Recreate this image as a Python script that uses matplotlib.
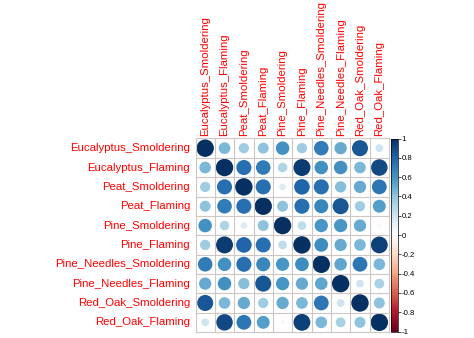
import numpy as np
import matplotlib
matplotlib.use("Agg")
import matplotlib.pyplot as plt
from matplotlib.colors import LinearSegmentedColormap, Normalize
from matplotlib.cm import ScalarMappable
from matplotlib.patches import Circle

plt.rcParams['font.family'] = ['Liberation Sans', 'DejaVu Sans']

# variables (same order for rows and columns)
labels = ["Eucalyptus_Smoldering", "Eucalyptus_Flaming", "Peat_Smoldering",
          "Peat_Flaming", "Pine_Smoldering", "Pine_Flaming",
          "Pine_Needles_Smoldering", "Pine_Needles_Flaming",
          "Red_Oak_Smoldering", "Red_Oak_Flaming"]

# correlation matrix
corr = np.array([
    [1.00, 0.45, 0.35, 0.40, 0.60, 0.35, 0.70, 0.50, 0.85, 0.20],
    [0.45, 1.00, 0.75, 0.70, 0.30, 0.95, 0.60, 0.60, 0.45, 0.90],
    [0.35, 0.75, 1.00, 0.75, 0.15, 0.80, 0.75, 0.42, 0.50, 0.72],
    [0.40, 0.70, 0.75, 1.00, 0.40, 0.75, 0.65, 0.85, 0.35, 0.55],
    [0.60, 0.30, 0.15, 0.40, 1.00, 0.25, 0.58, 0.58, 0.50, 0.05],
    [0.35, 0.95, 0.80, 0.75, 0.25, 1.00, 0.62, 0.50, 0.45, 0.93],
    [0.70, 0.60, 0.75, 0.65, 0.58, 0.62, 1.00, 0.52, 0.72, 0.45],
    [0.50, 0.60, 0.42, 0.85, 0.58, 0.50, 0.52, 1.00, 0.20, 0.32],
    [0.85, 0.45, 0.50, 0.35, 0.50, 0.45, 0.72, 0.20, 1.00, 0.40],
    [0.20, 0.90, 0.72, 0.55, 0.05, 0.93, 0.45, 0.32, 0.40, 1.00],
])

cb_ticks = [-1, -0.8, -0.6, -0.4, -0.2, 0, 0.2, 0.4, 0.6, 0.8, 1]

# corrplot's default RdBu palette
col2 = ["#67001F", "#B2182B", "#D6604D", "#F4A582", "#FDDBC7", "#FFFFFF",
        "#D1E5F0", "#92C5DE", "#4393C3", "#2166AC", "#053061"]
cmap = LinearSegmentedColormap.from_list("col2", col2, N=200)
norm = Normalize(-1, 1)

W, H = 474, 338
fig = plt.figure(figsize=(W / 100, H / 100), dpi=100)

# matrix area in pixels
x0, x1 = 195.5, 389.0
y0, y1 = 138.5, 332.0
ax = fig.add_axes([x0 / W, 1 - y1 / H, (x1 - x0) / W, (y1 - y0) / H])
n = len(labels)
ax.set_xlim(-0.5, n - 0.5)
ax.set_ylim(n - 0.5, -0.5)
ax.axis("off")

for i in range(n):
    for j in range(n):
        r = corr[i, j]
        c = Circle((j, i), 0.45 * np.sqrt(abs(r)), facecolor=cmap(norm(r)),
                   edgecolor="none")
        ax.add_patch(c)

for k in range(n + 1):
    ax.plot([k - 0.5, k - 0.5], [-0.5, n - 0.5], color="#cfc6c6", lw=0.8,
            clip_on=False)
    ax.plot([-0.5, n - 0.5], [k - 0.5, k - 0.5], color="#cfc6c6", lw=0.8,
            clip_on=False)

for i, lab in enumerate(labels):
    ax.text(-0.78, i, lab, ha="right", va="center", color="red",
            fontsize=8.2, clip_on=False)
    ax.text(i, -0.63, lab, ha="center", va="bottom", rotation=90,
            color="red", fontsize=8.2, clip_on=False)

# colour legend
cx0, cx1 = 390.5, 397.5
cy0, cy1 = 138.5, 331.5
cax = fig.add_axes([cx0 / W, 1 - cy1 / H, (cx1 - cx0) / W, (cy1 - cy0) / H])
cb = fig.colorbar(ScalarMappable(norm=norm, cmap=cmap), cax=cax,
                  ticks=cb_ticks)
cb.outline.set_linewidth(0.5)
cb.ax.set_yticklabels(["%g" % t for t in cb_ticks])
cb.ax.tick_params(labelsize=5.6, length=2, width=0.5, pad=1)

fig.savefig("out.png", dpi=100)
